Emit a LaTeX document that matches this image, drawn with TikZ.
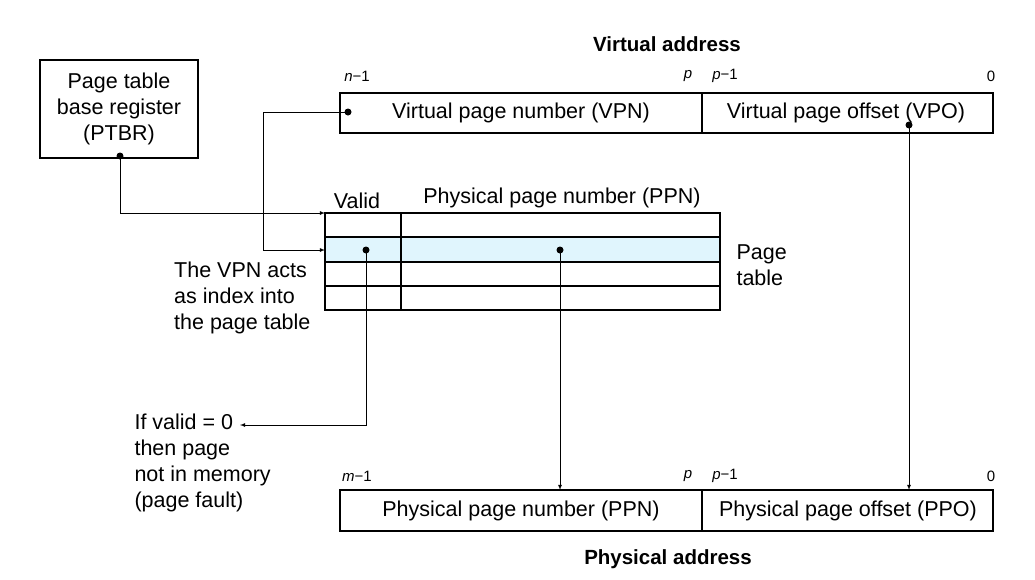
\documentclass[tikz,border=0pt]{standalone}
\usepackage{fontspec}
\setmainfont{Liberation Sans}
\begin{document}
\begin{tikzpicture}[x=1pt,y=-1pt,
  box/.style={draw,line width=1.4pt},
  txt/.style={font=\fontsize{21.5}{26}\selectfont},
  bit/.style={font=\fontsize{15}{16}\selectfont},
  ttl/.style={font=\fontsize{20.5}{24}\selectfont\bfseries},
  conn/.style={draw,line width=0.8pt,-latex},
  dotc/.style={circle,fill,inner sep=0pt,minimum size=7pt}]
\useasboundingbox (0,0) rectangle (1035,579);
% PTBR
\node[box,txt,minimum width=158pt,minimum height=98pt,align=center] (ptbr) at (119,109) {Page table\\base register\\(PTBR)};
\node[dotc] (pd) at (120,156) {};
% virtual address
\node[ttl] (vat) at (667,44) {Virtual address};
\draw[box] (340,93) rectangle (993,133);
\draw[box] (702,93) -- (702,133);
\node[txt] (vpn) at (521,113) {Virtual page number (VPN)};
\node[txt] (vpo) at (846,113) {Virtual page offset (VPO)};
\node[bit] at (357,76) {\textit{n}−1};
\node[bit] at (688,76) {\textit{p}};
\node[bit] at (725,76) {\textit{p}−1};
\node[bit] at (991,76) {0};
\node[dotc] (vd) at (348,112) {};
\node[dotc] (od) at (909,125) {};
% page table
\fill[cyan!12] (325,237) rectangle (720,262);
\foreach \y in {237,262,286} \draw[line width=1.4pt] (325,\y) -- (720,\y);
\draw[box] (325,213) rectangle (720,310);
\draw[box] (401,213) -- (401,310);
\node[txt] (valid) at (357,201) {Valid};
\node[txt] (ppnh) at (562,198) {Physical page number (PPN)};
\node[txt,align=left,anchor=west] (ptl) at (733,265) {Page\\table};
\node[txt,align=left,anchor=east] (vpnnote) at (314,298) {The VPN acts\\as index into\\the page table};
\coordinate (pt1) at (325,213);
\coordinate (pt2) at (325,250);
\node[dotc] (d1) at (366,250) {};
\node[dotc] (d2) at (560,250) {};
% fault note
\node[txt,align=left,anchor=north west] (fault) at (131,410) {If valid = 0\\then page\\not in memory\\(page fault)};
\coordinate (fa) at (240,425);
% physical address
\draw[box] (340,490) rectangle (993,531);
\draw[box] (702,490) -- (702,531);
\node[txt] (ppn) at (521,511) {Physical page number (PPN)};
\node[txt] (ppo) at (848,511) {Physical page offset (PPO)};
\node[bit] at (357,476) {\textit{m}−1};
\node[bit] at (688,476) {\textit{p}};
\node[bit] at (725,476) {\textit{p}−1};
\node[bit] at (991,476) {0};
\node[ttl] (pat) at (668,559) {Physical address};
\coordinate (pa1) at (560,490);
\coordinate (pa2) at (909,490);
% connectors
\draw[conn] (pd.center) |- (pt1);
\draw[conn] (vd.center) -- (263,112) |- (pt2);
\draw[conn] (d1.center) |- (fa);
\draw[conn] (d2.center) -- (pa1);
\draw[conn] (od.center) -- (pa2);
\end{tikzpicture}
\end{document}
